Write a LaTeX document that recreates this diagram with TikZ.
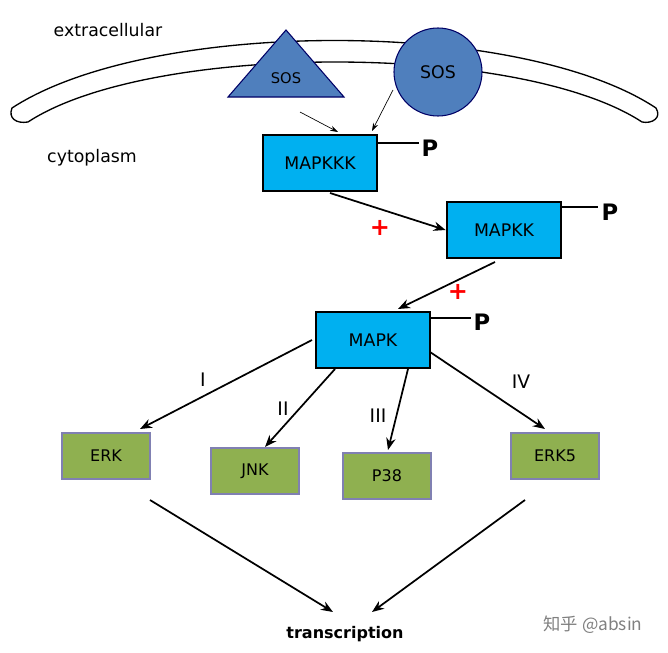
\documentclass[tikz,border=0pt]{standalone}
\usepackage{fontspec}
\setmainfont{DejaVu Sans}
\newfontfamily\cjk{Noto Sans CJK SC}
\usetikzlibrary{arrows.meta}
\definecolor{boxb}{HTML}{00B0F0}
\definecolor{boxg}{HTML}{8FB050}
\definecolor{sosb}{HTML}{4F7FBD}
\begin{document}
\begin{tikzpicture}[x=0.75pt,y=-0.75pt,
  blue/.style={draw=black,line width=1.6pt,fill=boxb,minimum width=86pt,minimum height=42pt,font=\fontsize{13}{13}\selectfont},
  green/.style={draw=black!60!blue!50,line width=1.6pt,fill=boxg,minimum width=66pt,minimum height=35pt,font=\fontsize{12}{12}\selectfont},
  arr/.style={-{Stealth[length=9pt,width=7pt]},line width=1.3pt},
  thin/.style={-{Stealth[length=6pt,width=4pt]},line width=0.5pt},
  lab/.style={font=\fontsize{14}{14}\selectfont},
  pl/.style={text=red,font=\bfseries\fontsize{18}{18}\selectfont},
  pp/.style={font=\bfseries\fontsize{17}{17}\selectfont}]
\useasboundingbox (0,0) rectangle (668,653);
\node[font=\fontsize{13}{13}\selectfont] (ex) at (108,30) {extracellular};
\node[font=\fontsize{13}{13}\selectfont] (cy) at (92,158) {cytoplasm};
\draw[line width=1pt,fill=white] (12,108) .. controls (150,18) and (520,18) .. (656,108)
  .. controls (662,118) and (652,124) .. (642,122)
  .. controls (520,42) and (150,42) .. (28,122)
  .. controls (16,124) and (8,118) .. (12,108) -- cycle;
\draw[fill=sosb,draw=blue!40!black,line width=0.8pt] (228,97) -- (344,97) -- (286,30) -- cycle;
\node[font=\fontsize{11}{11}\selectfont] (sos1) at (286,78) {SOS};
\draw[fill=sosb,draw=blue!40!black,line width=0.8pt] (438,72) circle (44);
\node[font=\fontsize{13}{13}\selectfont] (sos2) at (438,72) {SOS};
\node[blue] (k3) at (320,163) {MAPKKK};
\node[blue] (k2) at (504,230) {MAPKK};
\node[blue] (k1) at (373,340) {MAPK};
\node[pp] (p3) at (430,148) {P};
\node[pp] (p2) at (610,212) {P};
\node[pp] (p1) at (482,322) {P};
\draw[line width=1.3pt] (k3.east|-0,143) -- (419,143);
\draw[line width=1.3pt] (k2.east|-0,207) -- (598,207);
\draw[line width=1.3pt] (k1.east|-0,318) -- (471,318);
\draw[thin] (300,112) -- (338,132);
\draw[thin] (393,90) -- (372,131);
\draw[arr] (330,193) -- (k2.west);
\node[pl] (pl1) at (380,228) {+};
\draw[arr] (495,262) -- (398,309);
\node[pl] (pl2) at (458,292) {+};
\node[green] (erk) at (106,456) {ERK};
\node[green] (jnk) at (255,471) {JNK};
\node[green] (p38) at (387,476) {P38};
\node[green] (erk5) at (555,456) {ERK5};
\draw[arr] (312,340) -- (140,429);
\draw[arr] (335,369) -- (265,447);
\draw[arr] (408,369) -- (388,450);
\draw[arr] (430,352) -- (545,429);
\node[lab] (l1) at (203,380) {I};
\node[lab] (l2) at (283,409) {II};
\node[lab] (l3) at (378,416) {III};
\node[lab] (l4) at (521,382) {IV};
\node[font=\bfseries\fontsize{12}{12}\selectfont] (tr) at (345,634) {transcription};
\draw[arr] (150,500) -- (333,612);
\draw[arr] (525,500) -- (372,612);
\node[text=gray,font=\cjk\fontsize{13}{13}\selectfont] (wm) at (593,625) {知乎 @absin};
\end{tikzpicture}
\end{document}
